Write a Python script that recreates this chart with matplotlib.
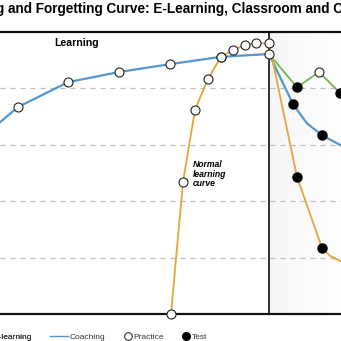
import matplotlib
matplotlib.use("Agg")
import matplotlib.pyplot as plt
import numpy as np
from matplotlib.lines import Line2D
from matplotlib.legend_handler import HandlerLine2D

plt.rcParams["font.family"] = ["Liberation Sans", "DejaVu Sans"]

TITLE = "Learning and Forgetting Curve: E-Learning, Classroom and Coaching"

# time axis (arbitrary units), score axis 0-5
split_x = 26.9

# coaching (blue): learning phase then forgetting phase
coach_x = [-1.0, 1.8, 6.8, 11.9, 17.0, 22.1, 26.9, 29.3, 30.7, 32.2, 34.5]
coach_y = [3.25, 3.67, 4.11, 4.29, 4.43, 4.56, 4.61, 3.72, 3.38, 3.17, 2.95]
coach_practice = [1.8, 6.8, 11.9, 17.0, 22.1, 26.9]
coach_test = [29.3, 32.2]

# classroom (green) forgetting branch
green_x = [26.9, 29.7, 31.9, 34.0, 35.0]
green_y = [4.61, 4.02, 4.29, 3.92, 3.80]
green_practice = [31.9]
green_test = [29.7, 34.0]

# e-learning / normal learning curve (orange)
orange_x = [17.1, 18.3, 19.5, 20.8, 22.1, 23.3, 24.5, 25.6, 26.9, 29.7, 32.2, 33.0, 34.5]
orange_y = [0.00, 2.34, 3.62, 4.17, 4.56, 4.68, 4.77, 4.80, 4.80, 2.43, 1.17, 1.03, 0.90]
orange_practice = [17.1, 18.3, 19.5, 20.8, 22.1, 23.3, 24.5, 25.6, 26.9]
orange_test = [29.7, 32.2]

C_BLUE = "#5596cc"
C_ORANGE = "#e2a63a"
C_GREEN = "#72b552"


def pick(xs, ys, sel):
    d = dict(zip(xs, ys))
    return sel, [d[s] for s in sel]


fig = plt.figure(figsize=(3.41, 3.41), dpi=100)
ax = fig.add_axes([0, 27 / 341, 1, 282 / 341])
ax.set_xlim(0, 34.1)
ax.set_ylim(0, 5)

# shaded forgetting region
grad = np.linspace(0, 1, 100).reshape(1, -1)
ax.imshow(grad, extent=(split_x, 34.1, 0, 5), aspect="auto", cmap="Greys_r",
          vmin=-14, vmax=1.1, zorder=0)

for yv in [1, 2, 3, 4]:
    ax.axhline(yv, color="#bdbdbd", lw=0.9, ls=(0, (4, 4)), zorder=1)

ax.axvline(split_x, color="#111111", lw=1.2, zorder=2)

ax.plot(coach_x, coach_y, color=C_BLUE, lw=1.6, zorder=3)
ax.plot(green_x, green_y, color=C_GREEN, lw=1.3, zorder=3)
ax.plot(orange_x, orange_y, color=C_ORANGE, lw=1.3, zorder=3)

mk_open = dict(ls="none", marker="o", ms=6.5, mfc="white", mec="#222222", mew=0.8,
               zorder=5, clip_on=False)
mk_test = dict(ls="none", marker="o", ms=6.5, mfc="black", mec="black", zorder=5)

for xs, ys, prac, test in [(coach_x, coach_y, coach_practice, coach_test),
                           (green_x, green_y, green_practice, green_test),
                           (orange_x, orange_y, orange_practice, orange_test)]:
    px, py = pick(xs, ys, prac)
    ax.plot(px, py, **mk_open)
    tx, ty = pick(xs, ys, test)
    ax.plot(tx, ty, **mk_test)

ax.text(7.7, 4.8, "Learning", fontsize=7.6, fontweight="bold", ha="center", va="center")
ax.text(19.25, 2.48, "Normal\nlearning\ncurve", fontsize=6.2, fontweight="bold",
        style="italic", ha="left", va="center", linespacing=1.05)

for s in ["left", "right"]:
    ax.spines[s].set_visible(False)
for s in ["top", "bottom"]:
    ax.spines[s].set_linewidth(1.6)
    ax.spines[s].set_color("#111111")
ax.set_xticks([])
ax.set_yticks([])

# title, both ends cut by the figure edges; anchor "E-Learning" at x=153 px
TS = 9.8
fig.canvas.draw()
r = fig.canvas.get_renderer()
probe = fig.text(0, 0, "Learning and Forgetting Curve: ", fontsize=TS, fontweight="bold")
w = probe.get_window_extent(r).width
probe.remove()
fig.text((153 - w) / 341, 1 - 9 / 341, TITLE, fontsize=TS, fontweight="bold",
         ha="left", va="center")

# legend: first entry is cut by the left edge
LFS = 6.0
leg_kw = dict(frameon=False, fontsize=LFS, handlelength=2.16, handletextpad=0.24,
              labelcolor="#333333", borderaxespad=0, borderpad=0)
leg1 = fig.legend([Line2D([], [], color=C_ORANGE, lw=1.0)], ["E-learning"],
                  loc="center right", bbox_to_anchor=(32 / 341, 1 - 337 / 341), **leg_kw)
fig.add_artist(leg1)

h_open = Line2D([], [], ls="none", marker="o", ms=5.5, mfc="white", mec="#333333", mew=0.8)
h_test = Line2D([], [], ls="none", marker="o", ms=5.5, mfc="black", mec="black")
fig.legend([Line2D([], [], color=C_BLUE, lw=1.0), h_open, h_test],
           ["Coaching", "Practice", "Test"], ncol=3, columnspacing=0.96,
           loc="center left", bbox_to_anchor=(50 / 341, 1 - 337 / 341),
           handler_map={h_open: HandlerLine2D(xpad=1.2), h_test: HandlerLine2D(xpad=1.2)},
           **leg_kw)

fig.savefig("out.png", dpi=100)
